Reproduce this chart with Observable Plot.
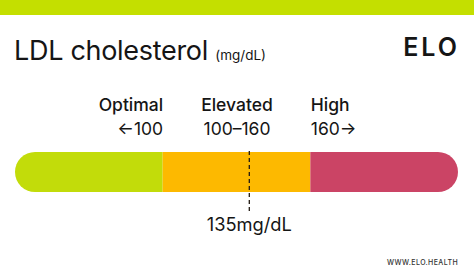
<!DOCTYPE html>
<html><head><meta charset="utf-8">
<script src="https://cdn.jsdelivr.net/npm/d3@7"></script>
<script src="https://cdn.jsdelivr.net/npm/@observablehq/plot@0.6"></script>
<style>
html,body{margin:0;padding:0;background:#fff;}
body{width:474px;height:280px;position:relative;overflow:hidden;font-family:Inter,"Noto Sans",sans-serif;color:#151515;}
#band{position:absolute;left:0;top:0;width:474px;height:15px;background:#c4df00;}
#title{position:absolute;left:14px;top:34px;font-size:27px;font-weight:400;letter-spacing:-0.3px;white-space:nowrap;}
#title small{font-size:13.5px;letter-spacing:0;}
#logo{position:absolute;right:14px;top:32px;font-size:25px;font-weight:600;letter-spacing:3px;font-family:Inter,sans-serif;}
#chart{position:absolute;left:0;top:80px;}
#foot{position:absolute;right:16px;top:258px;font-size:7px;font-weight:500;color:#333;letter-spacing:0.4px;}
</style></head>
<body>
<div id="band"></div>
<div id="title">LDL cholesterol <small>(mg/dL)</small></div>
<div id="logo">ELO</div>
<div id="chart"></div>
<div id="foot">WWW.ELO.HEALTH</div>
<script>
const categories = ["Optimal", "Elevated", "High"];
const rangeLabels = ["←100", "100–160", "160→"];
const lowerBounds = [40, 100, 160];
const upperBounds = [100, 160, 220];
const segmentColors = ["#c2dc0a", "#fdb900", "#cb4465"];
const labelAt = [100, 130, 160];
const labelAnchors = ["end", "middle", "start"];
const markerValue = 135;
const markerUnit = "mg/dL";

const segments = categories.map((c, i) => ({
  category: c, range: rangeLabels[i], x1: lowerBounds[i], x2: upperBounds[i],
  color: segmentColors[i], at: labelAt[i], anchor: labelAnchors[i]
}));

const labelMarks = segments.flatMap(s => [
  Plot.text([s], {x: "at", text: "category", frameAnchor: "top", lineAnchor: "bottom", dy: -42,
    textAnchor: s.anchor, fontSize: 17.5, fontWeight: 500, fill: "#151515"}),
  Plot.text([s], {x: "at", text: "range", frameAnchor: "top", lineAnchor: "bottom", dy: -18,
    textAnchor: s.anchor, fontSize: 17.5, fontWeight: 400, fill: "#151515"})
]);

const chartH = 165, mTop = 72, mBottom = 53;
const plot = Plot.plot({
  width: 474, height: chartH,
  marginLeft: 0, marginRight: 0, marginTop: mTop, marginBottom: mBottom,
  x: {domain: [40, 220], range: [15, 458], axis: null},
  style: {fontFamily: "Inter, 'Noto Sans', sans-serif", overflow: "visible", background: "transparent"},
  marks: [
    Plot.rectX(segments, {x1: "x1", x2: "x2", fill: "color", className: "barseg"}),
    Plot.ruleX([markerValue], {x: d => d, stroke: "#221a12", strokeWidth: 1.3, strokeDasharray: "4,3",
      insetTop: -1, insetBottom: -21}),
    Plot.text([markerValue], {x: d => d, text: d => d + markerUnit, frameAnchor: "bottom", lineAnchor: "bottom",
      dy: 38, textAnchor: "middle", fontSize: 18.3, fontWeight: 400, fill: "#151515"}),
    ...labelMarks
  ]
});
document.getElementById("chart").appendChild(plot);

// rounded ends of the bar, computed from the x scale
const xs = plot.scale("x");
const svgSel = d3.select(plot);
const bx0 = xs.apply(lowerBounds[0]), bx1 = xs.apply(upperBounds[upperBounds.length - 1]);
const bh = chartH - mTop - mBottom;
svgSel.append("defs").append("clipPath").attr("id", "barclip")
  .append("rect").attr("x", bx0).attr("y", mTop).attr("width", bx1 - bx0).attr("height", bh)
  .attr("rx", bh / 2).attr("ry", bh / 2);
svgSel.selectAll("g.barseg").attr("clip-path", "url(#barclip)");
</script>
</body></html>
